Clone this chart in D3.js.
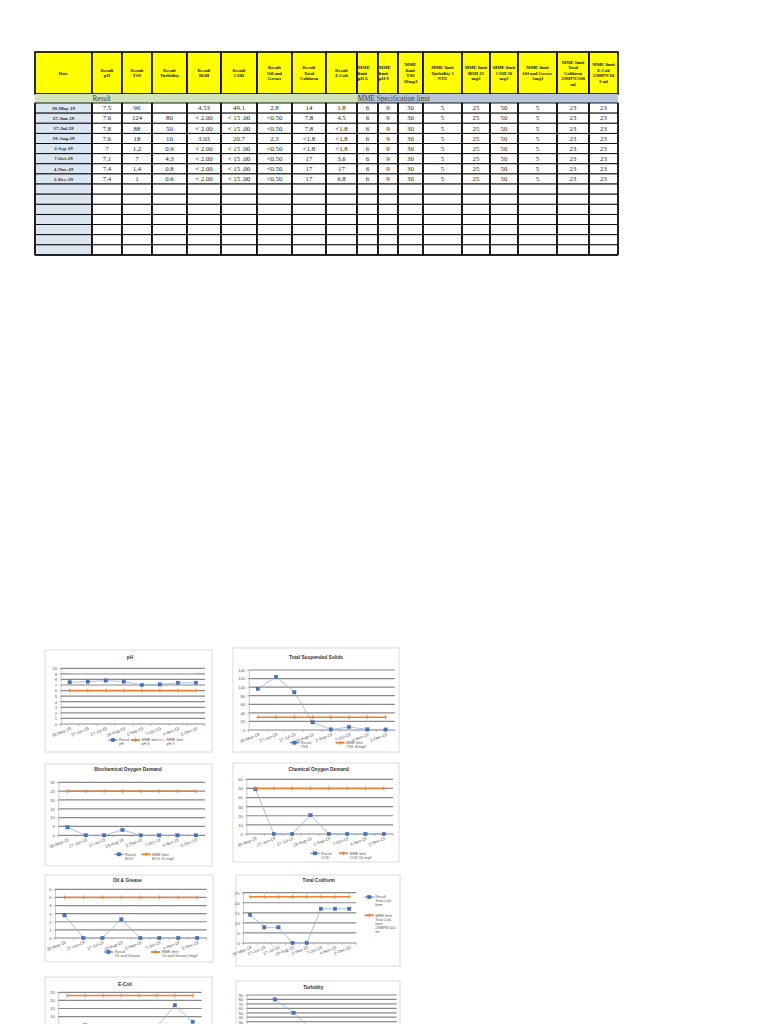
<!DOCTYPE html>
<html>
<head>
<meta charset="utf-8">
<script src="https://cdn.jsdelivr.net/npm/d3@7"></script>
<style>
  body { margin: 0; background: #fff; }
  svg { display: block; }
</style>
</head>
<body>
<script>
    // ---- table data
    var dateLabels = ["30-May-19", "27-Jun-19", "17-Jul-19", "19-Aug-19", "2-Sep-19", "7-Oct-19", "4-Nov-19", "2-Dec-19"];
    var resultPh = ["7.5", "7.6", "7.8", "7.6", "7", "7.1", "7.4", "7.4"];
    var resultTss = ["96", "124", "88", "18", "1.2", "7", "1.4", "1"];
    var resultTurbidity = ["", "80", "50", "10", "0.9", "4.3", "0.8", "0.6"];
    var resultBod = ["4.53", "< 2.00", "< 2.00", "3.03", "< 2.00", "< 2.00", "< 2.00", "< 2.00"];
    var resultCod = ["49.1", "< 15 .00", "< 15 .00", "20.7", "< 15 .00", "< 15 .00", "< 15 .00", "< 15 .00"];
    var resultOil = ["2.8", "<0.50", "<0.50", "2.3", "<0.50", "<0.50", "<0.50", "<0.50"];
    var resultColiform = ["14", "7.8", "7.8", "<1.8", "<1.8", "17", "17", "17"];
    var resultEcoli = ["1.8", "4.5", "<1.8", "<1.8", "<1.8", "3.6", "17", "6.8"];
    var limitValues = ["6", "9", "30", "5", "25", "50", "5", "23", "23"];

    var headerLabels = [
        ["Date"], ["Result", "pH"], ["Result", "TSS"], ["Result", "Turbidity"], ["Result", "BOD"],
        ["Result", "COD"], ["Result", "Oil and", "Grease"], ["Result", "Total", "Coliform"], ["Result", "E.Coli"],
        ["MME", "limit", "pH 6"], ["MME", "limit", "pH 9"], ["MME", "limit", "TSS", "30mg/l"],
        ["MME limit", "Turbidity 5", "NTU"], ["MME limit", "BOD 25", "mg/l"], ["MME limit", "COD 50", "mg/l"],
        ["MME limit", "Oil and Grease", "5mg/l"], ["MME limit", "Total", "Coliform", "23MPN/100", "ml"],
        ["MME limit", "E.Coli", "23MPN/10", "0 ml"]
    ];

    // ---- chart data (values below the detection limit are plotted as 0)
    var phSeries = [7.5, 7.6, 7.8, 7.6, 7, 7.1, 7.4, 7.4];
    var phLow = [6, 6, 6, 6, 6, 6, 6, 6];
    var phHigh = [9, 9, 9, 9, 9, 9, 9, 9];
    var tssSeries = [96, 124, 88, 18, 1.2, 7, 1.4, 1];
    var tssLimit = [30, 30, 30, 30, 30, 30, 30, 30];
    var bodSeries = [4.53, 0, 0, 3.03, 0, 0, 0, 0];
    var bodLimit = [25, 25, 25, 25, 25, 25, 25, 25];
    var codSeries = [49.1, 0, 0, 20.7, 0, 0, 0, 0];
    var codLimit = [50, 50, 50, 50, 50, 50, 50, 50];
    var oilSeries = [2.8, 0, 0, 2.3, 0, 0, 0, 0];
    var oilLimit = [5, 5, 5, 5, 5, 5, 5, 5];
    var coliSeries = [14, 7.8, 7.8, 0, 0, 17, 17, 17];
    var coliLimit = [23, 23, 23, 23, 23, 23, 23, 23];
    var ecoliSeries = [1.8, 4.5, 0, 0, 0, 3.6, 17, 6.8];
    var ecoliLimit = [23, 23, 23, 23, 23, 23, 23, 23];
    var turbSeries = [null, 80, 50, 10, 0.9, 4.3, 0.8, 0.6];
    var turbLimit = [5, 5, 5, 5, 5, 5, 5, 5];

    var serif = "'Liberation Serif', 'DejaVu Serif', serif";
    var sans = "'Liberation Sans', Arial, sans-serif";
    var pageH = 1024;

    var svg = d3.select("body").append("svg")
        .attr("width", 768)
        .attr("height", pageH)
        .attr("viewBox", "0 0 768 " + pageH);

    // ================= table =================
    var colX = [35, 92, 122, 152, 187, 221, 257, 292, 326, 357, 378, 398, 423, 462, 490, 518, 557, 589, 618];
    var headTop = 52, headBottom = 94, bandBottom = 103, rowH = 10.13, nRows = 15;
    var table = svg.append("g");

    headerLabels.forEach(function (lines, i) {
        var x0 = colX[i], x1 = colX[i + 1];
        table.append("rect")
            .attr("x", x0).attr("y", headTop)
            .attr("width", x1 - x0).attr("height", headBottom - headTop)
            .attr("fill", "#ffff00").attr("stroke", "#000").attr("stroke-width", 1.6);
        var left = (i == 9 || i == 10);
        var t = table.append("text")
            .attr("font-family", serif).attr("font-weight", "bold").attr("font-size", 4.7)
            .attr("fill", "#111")
            .attr("text-anchor", left ? "start" : "middle");
        lines.forEach(function (s, k) {
            t.append("tspan")
                .attr("x", left ? x0 + 0.8 : (x0 + x1) / 2)
                .attr("y", 73 - (lines.length - 1) * 2.75 + k * 5.5 + 1.6)
                .text(s);
        });
    });

    // band row
    table.append("rect").attr("x", colX[0]).attr("y", headBottom).attr("width", colX[9] - colX[0])
        .attr("height", bandBottom - headBottom).attr("fill", "#d3e3b9");
    table.append("rect").attr("x", colX[9]).attr("y", headBottom).attr("width", colX[18] - colX[9])
        .attr("height", bandBottom - headBottom).attr("fill", "#b9c6da");
    table.append("text").attr("x", colX[1] + 0.5).attr("y", bandBottom - 1.6)
        .attr("font-family", serif).attr("font-size", 7.2).attr("fill", "#3a3a3a").text("Result");
    table.append("text").attr("x", colX[9] + 0.8).attr("y", bandBottom - 1.6)
        .attr("font-family", serif).attr("font-size", 7.2).attr("fill", "#3a3a3a").text("MME Specification limit");

    var resultCols = [dateLabels, resultPh, resultTss, resultTurbidity, resultBod, resultCod, resultOil, resultColiform, resultEcoli];

    for (var r = 0; r < nRows; r++) {
        var ry = bandBottom + r * rowH;
        for (var c = 0; c < colX.length - 1; c++) {
            table.append("rect")
                .attr("x", colX[c]).attr("y", ry)
                .attr("width", colX[c + 1] - colX[c]).attr("height", rowH)
                .attr("fill", c == 0 ? "#dce6f1" : "#fff")
                .attr("stroke", "#000").attr("stroke-width", 0.9);
            if (r < dateLabels.length) {
                var txt = c < resultCols.length ? resultCols[c][r] : limitValues[c - resultCols.length];
                table.append("text")
                    .attr("x", (colX[c] + colX[c + 1]) / 2)
                    .attr("y", ry + rowH / 2 + (c == 0 ? 1.7 : 2.3))
                    .attr("text-anchor", "middle")
                    .attr("font-family", serif)
                    .attr("font-size", c == 0 ? 5 : 6.8)
                    .attr("font-weight", c == 0 ? "bold" : "normal")
                    .attr("fill", c == 0 ? "#1f2a3a" : "#262626")
                    .text(txt);
            }
        }
    }
    // thick verticals
    colX.forEach(function (x) {
        table.append("line").attr("x1", x).attr("x2", x)
            .attr("y1", bandBottom).attr("y2", bandBottom + nRows * rowH)
            .attr("stroke", "#000").attr("stroke-width", 1.5);
    });
    table.append("line").attr("x1", colX[0]).attr("x2", colX[18])
        .attr("y1", bandBottom + nRows * rowH).attr("y2", bandBottom + nRows * rowH)
        .attr("stroke", "#000").attr("stroke-width", 1.4);

    // ================= charts =================
    var blueLine = "#8eb0e2", blueMark = "#4472c4", orange = "#ed7d31", grayLine = "#cfcfcf";

    function drawMarker(g, kind, cx, cy) {
        if (kind == "square") {
            g.append("rect").attr("x", cx - 1.7).attr("y", cy - 1.7).attr("width", 3.4).attr("height", 3.4)
                .attr("fill", blueMark).attr("stroke", "#2f5597").attr("stroke-width", 0.3);
        } else if (kind == "cross") {
            g.append("line").attr("x1", cx).attr("x2", cx).attr("y1", cy - 2.1).attr("y2", cy + 2.1)
                .attr("stroke", orange).attr("stroke-width", 0.8);
            g.append("line").attr("x1", cx - 1.5).attr("x2", cx + 1.5).attr("y1", cy).attr("y2", cy)
                .attr("stroke", orange).attr("stroke-width", 0.8);
        } else {
            g.append("path").attr("transform", "translate(" + cx + "," + cy + ")")
                .attr("d", d3.symbol().type(d3.symbolTimes).size(5)())
                .attr("fill", "none").attr("stroke", "#bdbdbd").attr("stroke-width", 0.6);
        }
    }

    var seriesStyle = {
        square: { stroke: blueLine, width: 0.8 },
        cross: { stroke: orange, width: 1.5 },
        times: { stroke: grayLine, width: 1 }
    };

    function drawChart(c) {
        var g = svg.append("g");
        g.append("rect")
            .attr("x", c.box[0]).attr("y", c.box[1])
            .attr("width", c.box[2] - c.box[0]).attr("height", c.box[3] - c.box[1])
            .attr("fill", "#fff").attr("stroke", "#d9d9d9").attr("stroke-width", 1);

        g.append("text").attr("x", c.titlePos[0]).attr("y", c.titlePos[1])
            .attr("text-anchor", "middle").attr("font-family", sans).attr("font-weight", "bold")
            .attr("font-size", 4.8).attr("fill", "#333").text(c.title);

        var x = d3.scaleBand().domain(dateLabels).range([c.plot[0], c.plot[2]]);
        var y = d3.scaleLinear().domain([0, c.yMax]).range([c.plot[3], c.plot[1]]);
        var ticks = d3.range(0, c.yMax + c.yStep / 2, c.yStep);
        var bw = x.bandwidth();

        g.selectAll(".grid").data(ticks).enter().append("line")
            .attr("x1", c.plot[0]).attr("x2", c.plot[2])
            .attr("y1", function (d) { return y(d); }).attr("y2", function (d) { return y(d); })
            .attr("stroke", "#888").attr("stroke-width", 1.2);

        var ya = g.append("g").attr("transform", "translate(" + c.plot[0] + ",0)")
            .call(d3.axisLeft(y).tickValues(ticks).tickFormat(d3.format("d")).tickSize(1.5).tickPadding(2));
        ya.select(".domain").attr("stroke", "#a6a6a6").attr("stroke-width", 0.6);
        ya.selectAll(".tick line").attr("stroke", "#a6a6a6").attr("stroke-width", 0.5);
        ya.selectAll("text").attr("font-family", sans).attr("font-size", 4.2).attr("fill", "#595959");
        // labels that would fall past the bottom of the page are not shown in the source either
        ya.selectAll(".tick text").filter(function (d) { return y(d) + 1.6 > pageH; }).remove();

        // category tick marks at band edges
        var edges = dateLabels.map(function (d) { return x(d); }).concat([c.plot[2]]);
        g.selectAll(".xt").data(edges).enter().append("line")
            .attr("x1", function (d) { return d; }).attr("x2", function (d) { return d; })
            .attr("y1", c.plot[3]).attr("y2", c.plot[3] + 2)
            .attr("stroke", "#888").attr("stroke-width", 0.5);

        if (c.plot[3] + 8 < pageH) {
            g.selectAll(".xl").data(dateLabels).enter().append("text")
                .attr("transform", function (d) {
                    return "translate(" + (x(d) + bw / 2 + 1.5) + "," + (c.plot[3] + 5.5) + ") rotate(-22)";
                })
                .attr("text-anchor", "end").attr("font-family", sans).attr("font-size", 4.2)
                .attr("fill", "#595959").text(function (d) { return d; });
        }

        var line = d3.line()
            .defined(function (v) { return v != null; })
            .x(function (v, i) { return x(dateLabels[i]) + bw / 2; })
            .y(function (v) { return y(v); });

        c.series.forEach(function (s) {
            var st = seriesStyle[s.marker];
            g.append("path").datum(s.values).attr("d", line)
                .attr("fill", "none").attr("stroke", st.stroke).attr("stroke-width", st.width);
            s.values.forEach(function (v, i) {
                if (v != null) drawMarker(g, s.marker, x(dateLabels[i]) + bw / 2, y(v));
            });
        });

        if (c.legend) {
            c.legend.forEach(function (p, k) {
                var s = c.series[k];
                var st = seriesStyle[s.marker];
                g.append("line").attr("x1", p.x).attr("x2", p.x + 9).attr("y1", p.y).attr("y2", p.y)
                    .attr("stroke", s.marker == "square" ? blueMark : st.stroke).attr("stroke-width", st.width + 0.3);
                drawMarker(g, s.marker, p.x + 4.5, p.y);
                var t = g.append("text").attr("font-family", sans).attr("font-size", 3.8).attr("fill", "#595959");
                s.name.forEach(function (ln, j) {
                    t.append("tspan").attr("x", p.x + 10.5).attr("y", p.y + 1.3 + j * 4).text(ln);
                });
            });
        }
    }

    drawChart({
        box: [45, 650, 212, 752], plot: [60.7, 668.3, 205, 724], yMax: 10, yStep: 1,
        title: "pH", titlePos: [130, 659],
        series: [
            { values: phSeries, marker: "square", name: ["Result", "pH"] },
            { values: phLow, marker: "cross", name: ["MME limit", "pH 6"] },
            { values: phHigh, marker: "times", name: ["MME limit", "pH 9"] }
        ],
        legend: [{ x: 108.5, y: 740 }, { x: 131, y: 740 }, { x: 156, y: 740 }]
    });

    drawChart({
        box: [233, 648, 399, 752], plot: [248.7, 670, 394.7, 730], yMax: 140, yStep: 20,
        title: "Total Suspended Solids", titlePos: [316, 659],
        series: [
            { values: tssSeries, marker: "square", name: ["Result", "TSS"] },
            { values: tssLimit, marker: "cross", name: ["MME limit", "TSS 30mg/l"] }
        ],
        legend: [{ x: 290, y: 742.7 }, { x: 335.5, y: 742.7 }]
    });

    drawChart({
        box: [45, 764, 212, 866], plot: [58.3, 782.3, 205, 835.3], yMax: 30, yStep: 5,
        title: "Biochemical Oxygen Demand", titlePos: [128, 771],
        series: [
            { values: bodSeries, marker: "square", name: ["Result", "BOD"] },
            { values: bodLimit, marker: "cross", name: ["MME limit", "BOD 25 mg/l"] }
        ],
        legend: [{ x: 114.5, y: 854.3 }, { x: 141.5, y: 854.3 }]
    });

    drawChart({
        box: [233, 763, 399, 862], plot: [246.3, 779.3, 393, 834], yMax: 60, yStep: 10,
        title: "Chemical Oxygen Demand", titlePos: [318.7, 771],
        series: [
            { values: codSeries, marker: "square", name: ["Result", "COD"] },
            { values: codLimit, marker: "cross", name: ["MME limit", "COD 50 mg/l"] }
        ],
        legend: [{ x: 310.5, y: 853.3 }, { x: 339, y: 853.3 }]
    });

    drawChart({
        box: [45, 875, 213, 962], plot: [55, 889.3, 206.7, 938], yMax: 6, yStep: 1,
        title: "Oil & Grease", titlePos: [127.3, 882.3],
        series: [
            { values: oilSeries, marker: "square", name: ["Result", "Oil and Grease"] },
            { values: oilLimit, marker: "cross", name: ["MME limit", "Oil and Grease 5mg/l"] }
        ],
        legend: [{ x: 104, y: 952 }, { x: 151, y: 952 }]
    });

    drawChart({
        box: [236, 875, 400, 966], plot: [243, 892.7, 356.3, 943], yMax: 25, yStep: 5,
        title: "Total Coliform", titlePos: [318.7, 882.3],
        series: [
            { values: coliSeries, marker: "square", name: ["Result", "Total Coli-", "form"] },
            { values: coliLimit, marker: "cross", name: ["MME limit", "Total Coli-", "form", "23MPN/100", "ml"] }
        ],
        legend: [{ x: 364.7, y: 897 }, { x: 364.7, y: 915.3 }]
    });

    drawChart({
        box: [45, 977, 212, 1090], plot: [58.3, 992.3, 201.7, 1032.8], yMax: 25, yStep: 5,
        title: "E-Coli", titlePos: [125, 985.5],
        series: [
            { values: ecoliSeries, marker: "square", name: ["Result", "E.Coli"] },
            { values: ecoliLimit, marker: "cross", name: ["MME limit", "E.Coli"] }
        ],
        legend: null
    });

    drawChart({
        box: [236, 981, 400, 1090], plot: [246.7, 995, 396.7, 1035], yMax: 90, yStep: 10,
        title: "Turbidity", titlePos: [313.3, 989],
        series: [
            { values: turbSeries, marker: "square", name: ["Result", "Turbidity"] },
            { values: turbLimit, marker: "cross", name: ["MME limit", "Turbidity"] }
        ],
        legend: null
    });
</script>
</body>
</html>
